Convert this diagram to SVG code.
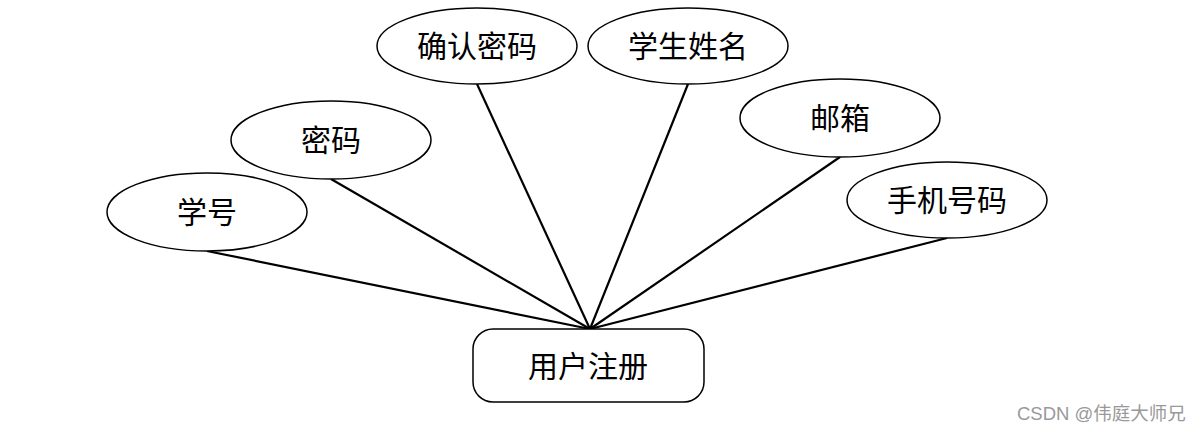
<svg xmlns="http://www.w3.org/2000/svg" width="1204" height="434" viewBox="0 0 1204 434">
<style>
.shape{fill:#fff;stroke:#000;stroke-width:1.5}
.lbl{font-family:"Noto Sans CJK SC","Liberation Serif",serif;font-size:30px;fill:#000;text-anchor:middle;dominant-baseline:central}
.conn line{stroke:#000;stroke-width:2.2}
.wm{font-family:"Liberation Sans","Noto Sans CJK SC",sans-serif;font-size:18.5px;fill:#999}
</style>
<rect width="1204" height="434" fill="#fff"/>
<g class="conn" id="connectors">
<line x1="207" y1="251" x2="590" y2="329"/>
<line x1="331" y1="179" x2="590" y2="329"/>
<line x1="477" y1="84" x2="590" y2="329"/>
<line x1="688" y1="84" x2="590" y2="329"/>
<line x1="840" y1="157" x2="590" y2="329"/>
<line x1="947" y1="238" x2="590" y2="329"/>
</g>
<g id="n_xuehao"><ellipse class="shape" cx="207" cy="212" rx="100" ry="39"/><text class="lbl" x="207" y="210">学号</text></g>
<g id="n_mima"><ellipse class="shape" cx="331" cy="140" rx="100" ry="39"/><text class="lbl" x="331" y="138">密码</text></g>
<g id="n_queren"><ellipse class="shape" cx="477" cy="46" rx="100" ry="38"/><text class="lbl" x="477" y="44">确认密码</text></g>
<g id="n_xingming"><ellipse class="shape" cx="688" cy="46" rx="100" ry="38"/><text class="lbl" x="688" y="44">学生姓名</text></g>
<g id="n_youxiang"><ellipse class="shape" cx="840" cy="118" rx="100" ry="39"/><text class="lbl" x="840" y="116">邮箱</text></g>
<g id="n_shouji"><ellipse class="shape" cx="947" cy="200" rx="100" ry="38"/><text class="lbl" x="947" y="198">手机号码</text></g>
<g id="n_zhuce"><rect class="shape" x="473" y="329" width="231" height="73" rx="20"/><text class="lbl" x="588" y="364">用户注册</text></g>
<text class="wm" x="1017" y="420">CSDN @伟庭大师兄</text>
</svg>
